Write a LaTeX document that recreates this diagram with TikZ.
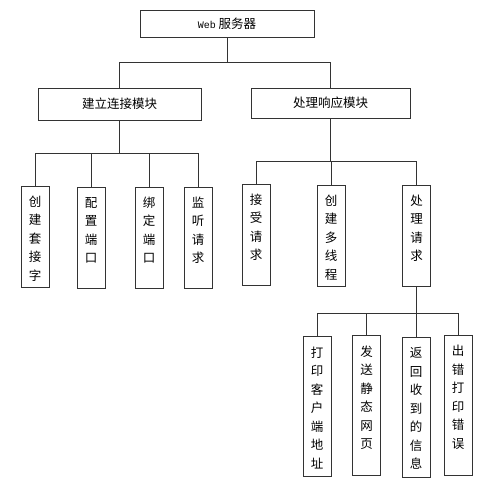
\documentclass[tikz,border=0pt]{standalone}
\usepackage{fontspec}
\newfontfamily\cjk{Noto Sans CJK SC}
\newfontfamily\webfont{Liberation Mono}
\newcommand{\vtxt}[2]{\parbox[c][#1][t]{14pt}{\centering #2}}

\begin{document}
\begin{tikzpicture}[x=1pt,y=-1pt,line width=0.8pt,
        box/.style={draw=black!80,inner sep=0pt,font=\fontsize{12.5pt}{18.5pt}\selectfont\cjk},
        leafshort/.style={box,minimum width=28pt,minimum height=101pt},
        leaflong/.style={box,minimum width=28pt,minimum height=140pt}]
        \useasboundingbox (0,0) rectangle (503,487);
        \pgfmathsetmacro{\hshort}{81}
        \pgfmathsetmacro{\hlong}{120}
        
        \node[box,minimum width=174pt,minimum height=27pt] (web) at (227,23.5) {{\webfont\fontsize{10pt}{12pt}\selectfont Web} 服务器};
        \node[box,minimum width=163pt,minimum height=32pt] (conn) at (119.5,104) {建立连接模块};
        \node[box,minimum width=159pt,minimum height=30pt] (resp) at (330.5,103) {处理响应模块};
        
        \node[leafshort] (l1) at (35,236.5) {\vtxt{\hshort pt}{创\\建\\套\\接\\字}};
        \node[leafshort] (l2) at (91,237.5) {\vtxt{\hshort pt}{配\\置\\端\\口}};
        \node[leafshort] (l3) at (149,237.5) {\vtxt{\hshort pt}{绑\\定\\端\\口}};
        \node[leafshort] (l4) at (198,237.5) {\vtxt{\hshort pt}{监\\听\\请\\求}};
        
        \node[leafshort] (r1) at (256,234.5) {\vtxt{\hshort pt}{接\\受\\请\\求}};
        \node[leafshort] (r2) at (331,235.5) {\vtxt{\hshort pt}{创\\建\\多\\线\\程}};
        \node[leafshort] (r3) at (416.5,235.5) {\vtxt{\hshort pt}{处\\理\\请\\求}};
        
        \node[leaflong] (b1) at (317,406.5) {\vtxt{\hlong pt}{打\\印\\客\\户\\端\\地\\址}};
        \node[leaflong] (b2) at (366.5,405.5) {\vtxt{\hlong pt}{发\\送\\静\\态\\网\\页}};
        \node[leaflong] (b3) at (416,407.5) {\vtxt{\hlong pt}{返\\回\\收\\到\\的\\信\\息}};
        \node[leaflong] (b4) at (458,405.5) {\vtxt{\hlong pt}{出\\错\\打\\印\\错\\误}};
        
        \draw[black!80] (web.south) -- ++(0,25) coordinate (webbar);
        \draw[black!80] (conn.north) |- (webbar) -| (resp.north);
        
        \draw[black!80] (conn.south) -- ++(0,33) coordinate (connbar);
        \foreach \n in {l1,l2,l3,l4} \draw[black!80] (connbar) -| (\n.north);
        
        \draw[black!80] (resp.south) -- ++(0,43) coordinate (respbar);
        \foreach \n in {r1,r2,r3} \draw[black!80] (respbar) -| (\n.north);
        
        \draw[black!80] (r3.south) -- ++(0,27) coordinate (procbar);
        \foreach \n in {b1,b2,b3,b4} \draw[black!80] (procbar) -| (\n.north);
        
    \end{tikzpicture}
\end{document}
